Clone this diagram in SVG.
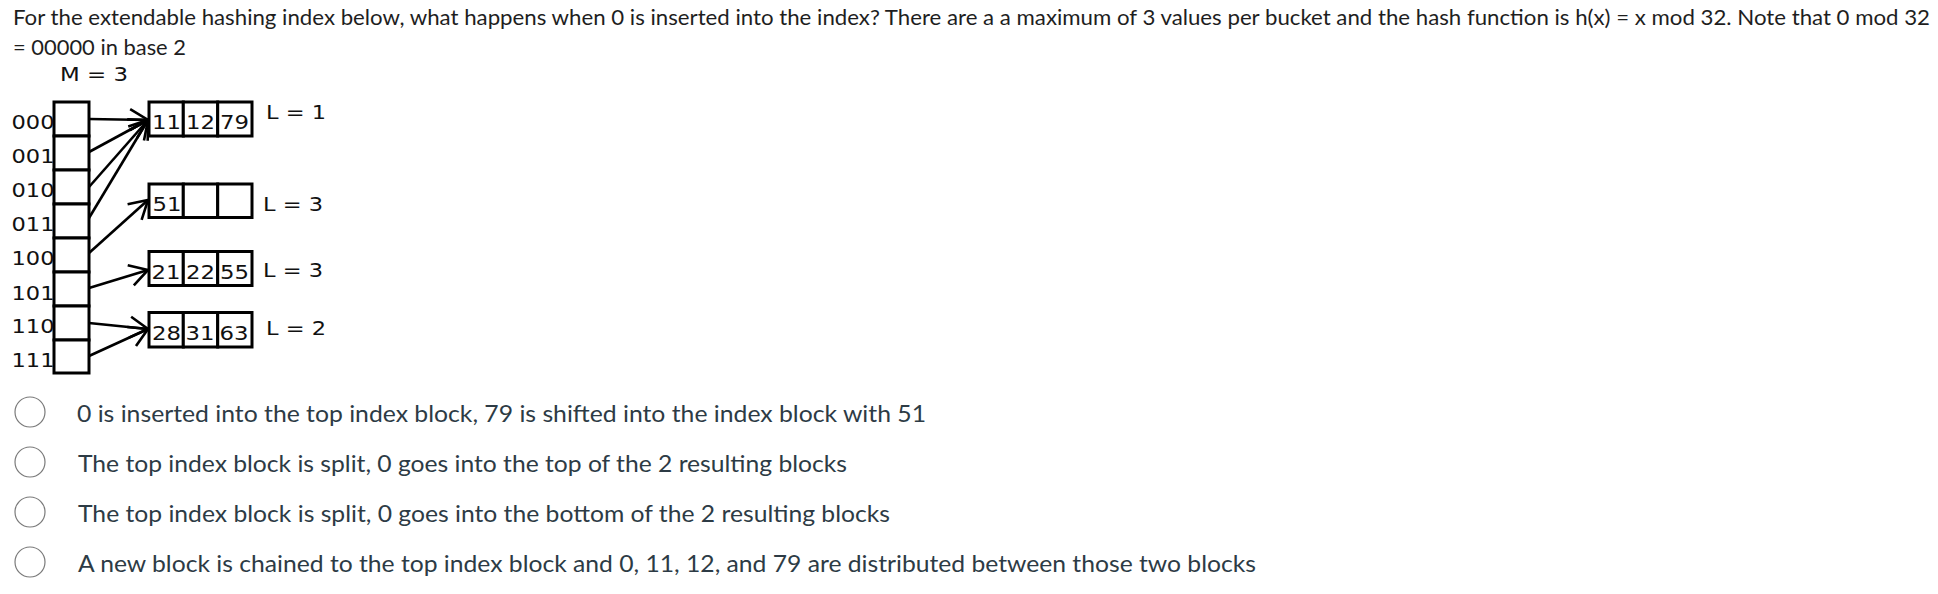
<svg xmlns="http://www.w3.org/2000/svg" width="1938" height="594" viewBox="0 0 1938 594">
<style>
.q{font-family:Lato,"Open Sans",sans-serif;font-size:22px;fill:#1e1e1e}
.o{font-family:Lato,"Open Sans",sans-serif;font-size:24px;fill:#2d3b45}
.d{font-family:"DejaVu Sans",Verdana,sans-serif;font-size:19px;fill:#111}
.c{text-anchor:middle}
.box{fill:#fff;stroke:#000;stroke-width:3}
.arr{fill:none;stroke:#000;stroke-width:2.6;marker-end:url(#ah)}
.rad{fill:#fff;stroke:#7a7a7a;stroke-width:1.2}
</style>
<defs>
<marker id="ah" markerUnits="userSpaceOnUse" markerWidth="30" markerHeight="30" viewBox="-22 -15 30 30" refX="0" refY="0" orient="auto" overflow="visible">
<path d="M-18,-10.5 L0,0 L-18,10.5" fill="none" stroke="#000" stroke-width="2.6" stroke-linejoin="miter"/>
</marker>
</defs>
<rect width="1938" height="594" fill="#fff"/>
<g id="question">
<text class="q" x="13" y="25" textLength="1917" lengthAdjust="spacingAndGlyphs">For the extendable hashing index below, what happens when 0 is inserted into the index? There are a a maximum of 3 values per bucket and the hash function is h(x) = x mod 32. Note that 0 mod 32</text>
<text class="q" x="13" y="54.5" textLength="173" lengthAdjust="spacingAndGlyphs">= 00000 in base 2</text>
</g>
<g id="m-label"><text class="d" x="60" y="81" textLength="68" lengthAdjust="spacingAndGlyphs">M = 3</text></g>
<g id="directory">
<rect class="box" x="54" y="102" width="35" height="34"/>
<rect class="box" x="54" y="136" width="35" height="34"/>
<rect class="box" x="54" y="170" width="35" height="34"/>
<rect class="box" x="54" y="204" width="35" height="34"/>
<rect class="box" x="54" y="238" width="35" height="34"/>
<rect class="box" x="54" y="272" width="35" height="34"/>
<rect class="box" x="54" y="306" width="35" height="34"/>
<rect class="box" x="54" y="340" width="35" height="33"/>
<text class="d" x="11.5" y="129" textLength="43" lengthAdjust="spacingAndGlyphs">000</text>
<text class="d" x="11.5" y="163" textLength="43" lengthAdjust="spacingAndGlyphs">001</text>
<text class="d" x="11.5" y="197" textLength="43" lengthAdjust="spacingAndGlyphs">010</text>
<text class="d" x="11.5" y="231" textLength="43" lengthAdjust="spacingAndGlyphs">011</text>
<text class="d" x="11.5" y="265" textLength="43" lengthAdjust="spacingAndGlyphs">100</text>
<text class="d" x="11.5" y="300" textLength="43" lengthAdjust="spacingAndGlyphs">101</text>
<text class="d" x="11.5" y="333" textLength="43" lengthAdjust="spacingAndGlyphs">110</text>
<text class="d" x="11.5" y="367" textLength="43" lengthAdjust="spacingAndGlyphs">111</text>
</g>
<g id="connectors">
<path class="arr" d="M89,119 L148,120"/>
<path class="arr" d="M89,152 L148,120"/>
<path class="arr" d="M89,187 L148,120"/>
<path class="arr" d="M89,218 L148,120"/>
<path class="arr" d="M89,253 L148,200"/>
<path class="arr" d="M89,288 L148,270"/>
<path class="arr" d="M89,323 L148,329"/>
<path class="arr" d="M89,356 L148,329"/>
</g>
<g id="bucket1">
<rect class="box" x="149" y="102" width="34.3" height="34"/>
<rect class="box" x="183.3" y="102" width="34.4" height="34"/>
<rect class="box" x="217.7" y="102" width="34.3" height="34"/>
<text class="d c" x="166.5" y="129" textLength="29" lengthAdjust="spacingAndGlyphs">11</text>
<text class="d c" x="200.5" y="129" textLength="29" lengthAdjust="spacingAndGlyphs">12</text>
<text class="d c" x="234.5" y="129" textLength="29" lengthAdjust="spacingAndGlyphs">79</text>
<text class="d" x="266" y="119" textLength="60" lengthAdjust="spacingAndGlyphs">L = 1</text>
</g>
<g id="bucket2">
<rect class="box" x="149" y="184" width="34.3" height="33.5"/>
<rect class="box" x="183.3" y="184" width="34.4" height="33.5"/>
<rect class="box" x="217.7" y="184" width="34.3" height="33.5"/>
<text class="d c" x="167" y="210.5" textLength="29" lengthAdjust="spacingAndGlyphs">51</text>
<text class="d" x="263" y="211" textLength="60" lengthAdjust="spacingAndGlyphs">L = 3</text>
</g>
<g id="bucket3">
<rect class="box" x="149" y="251.5" width="34.3" height="34"/>
<rect class="box" x="183.3" y="251.5" width="34.4" height="34"/>
<rect class="box" x="217.7" y="251.5" width="34.3" height="34"/>
<text class="d c" x="166" y="278.5" textLength="29" lengthAdjust="spacingAndGlyphs">21</text>
<text class="d c" x="200.5" y="278.5" textLength="29" lengthAdjust="spacingAndGlyphs">22</text>
<text class="d c" x="234.5" y="278.5" textLength="29" lengthAdjust="spacingAndGlyphs">55</text>
<text class="d" x="263" y="277" textLength="60" lengthAdjust="spacingAndGlyphs">L = 3</text>
</g>
<g id="bucket4">
<rect class="box" x="149" y="312.5" width="34.3" height="34.5"/>
<rect class="box" x="183.3" y="312.5" width="34.4" height="34.5"/>
<rect class="box" x="217.7" y="312.5" width="34.3" height="34.5"/>
<text class="d c" x="166.5" y="339.5" textLength="29" lengthAdjust="spacingAndGlyphs">28</text>
<text class="d c" x="200" y="339.5" textLength="29" lengthAdjust="spacingAndGlyphs">31</text>
<text class="d c" x="234" y="339.5" textLength="29" lengthAdjust="spacingAndGlyphs">63</text>
<text class="d" x="266" y="335" textLength="60" lengthAdjust="spacingAndGlyphs">L = 2</text>
</g>
<g id="options">
<circle class="rad" cx="30" cy="412" r="15"/>
<circle class="rad" cx="30" cy="462" r="15"/>
<circle class="rad" cx="30" cy="512" r="15"/>
<circle class="rad" cx="30" cy="562" r="15"/>
<text class="o" x="77" y="422" textLength="849" lengthAdjust="spacingAndGlyphs">0 is inserted into the top index block, 79 is shifted into the index block with 51</text>
<text class="o" x="78" y="472" textLength="769" lengthAdjust="spacingAndGlyphs">The top index block is split, 0 goes into the top of the 2 resulting blocks</text>
<text class="o" x="78" y="522" textLength="812" lengthAdjust="spacingAndGlyphs">The top index block is split, 0 goes into the bottom of the 2 resulting blocks</text>
<text class="o" x="78" y="572" textLength="1178" lengthAdjust="spacingAndGlyphs">A new block is chained to the top index block and 0, 11, 12, and 79 are distributed between those two blocks</text>
</g>
</svg>
